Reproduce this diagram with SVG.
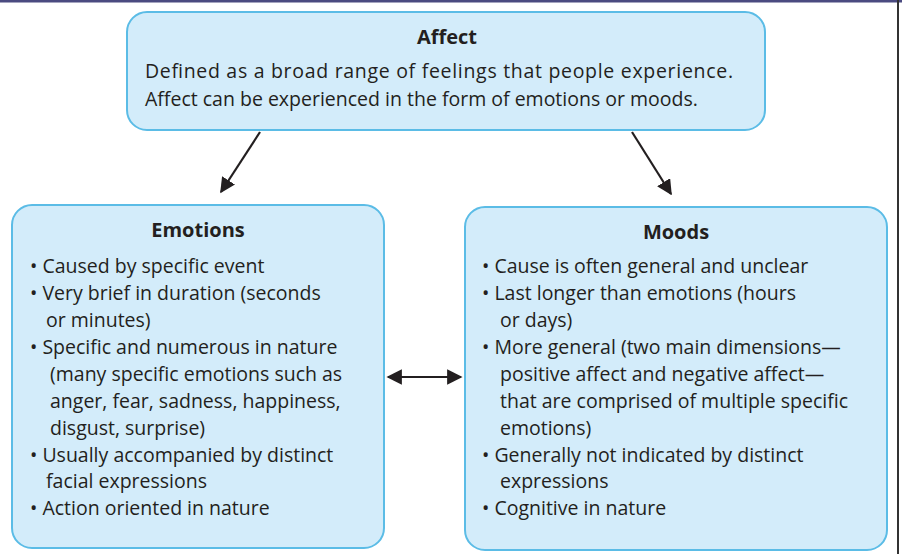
<svg xmlns="http://www.w3.org/2000/svg" width="902" height="554" viewBox="0 0 902 554">
<style>
.box{fill:#d3ecfa;stroke:#5bbce6;stroke-width:2}
text{font-family:"Open Sans",Lato,sans-serif;font-size:19.5px;fill:#231f20}
.t{font-weight:bold;text-anchor:middle;font-size:20px}
.c{stroke:#231f20;stroke-width:2.2;fill:none}
</style>
<defs><marker id="a" viewBox="0 0 10 10" refX="9" refY="5" markerWidth="7" markerHeight="7" orient="auto-start-reverse"><path d="M0,0L10,5L0,10z" fill="#231f20"/></marker></defs>
<rect width="902" height="554" fill="#fff"/>
<rect x="0" y="0" width="902" height="2.5" fill="#4a4a80"/>
<rect x="897" y="0" width="2" height="554" fill="#333"/>
<g id="affect"><rect class="box" x="127" y="12" width="638" height="118" rx="20"/>
<text class="t" x="447" y="44">Affect</text>
<text x="145" y="78" textLength="588">Defined as a broad range of feelings that people experience.</text>
<text x="145" y="106">Affect can be experienced in the form of emotions or moods.</text></g>
<g id="emotions"><rect class="box" x="12" y="205" width="372" height="343" rx="20"/>
<text class="t" x="198" y="237">Emotions</text>
<text x="30" y="273">• Caused by specific event</text>
<text x="30" y="300">• Very brief in duration (seconds</text>
<text x="46" y="327">or minutes)</text>
<text x="30" y="354">• Specific and numerous in nature</text>
<text x="50" y="381">(many specific emotions such as</text>
<text x="50" y="408">anger, fear, sadness, happiness,</text>
<text x="50" y="435">disgust, surprise)</text>
<text x="30" y="462">• Usually accompanied by distinct</text>
<text x="46" y="488">facial expressions</text>
<text x="30" y="515">• Action oriented in nature</text></g>
<g id="moods"><rect class="box" x="465" y="207" width="422" height="343" rx="20"/>
<text class="t" x="676" y="239">Moods</text>
<text x="482" y="273">• Cause is often general and unclear</text>
<text x="482" y="300">• Last longer than emotions (hours</text>
<text x="500" y="327">or days)</text>
<text x="482" y="354">• More general (two main dimensions—</text>
<text x="500" y="381">positive affect and negative affect—</text>
<text x="500" y="408">that are comprised of multiple specific</text>
<text x="500" y="435">emotions)</text>
<text x="482" y="462">• Generally not indicated by distinct</text>
<text x="500" y="488">expressions</text>
<text x="482" y="515">• Cognitive in nature</text></g>
<g id="connectors">
<line class="c" x1="260" y1="132" x2="221" y2="192" marker-end="url(#a)"/>
<line class="c" x1="632" y1="132" x2="671" y2="194" marker-end="url(#a)"/>
<line class="c" x1="388" y1="377" x2="461" y2="377" marker-start="url(#a)" marker-end="url(#a)"/>
</g>
</svg>
